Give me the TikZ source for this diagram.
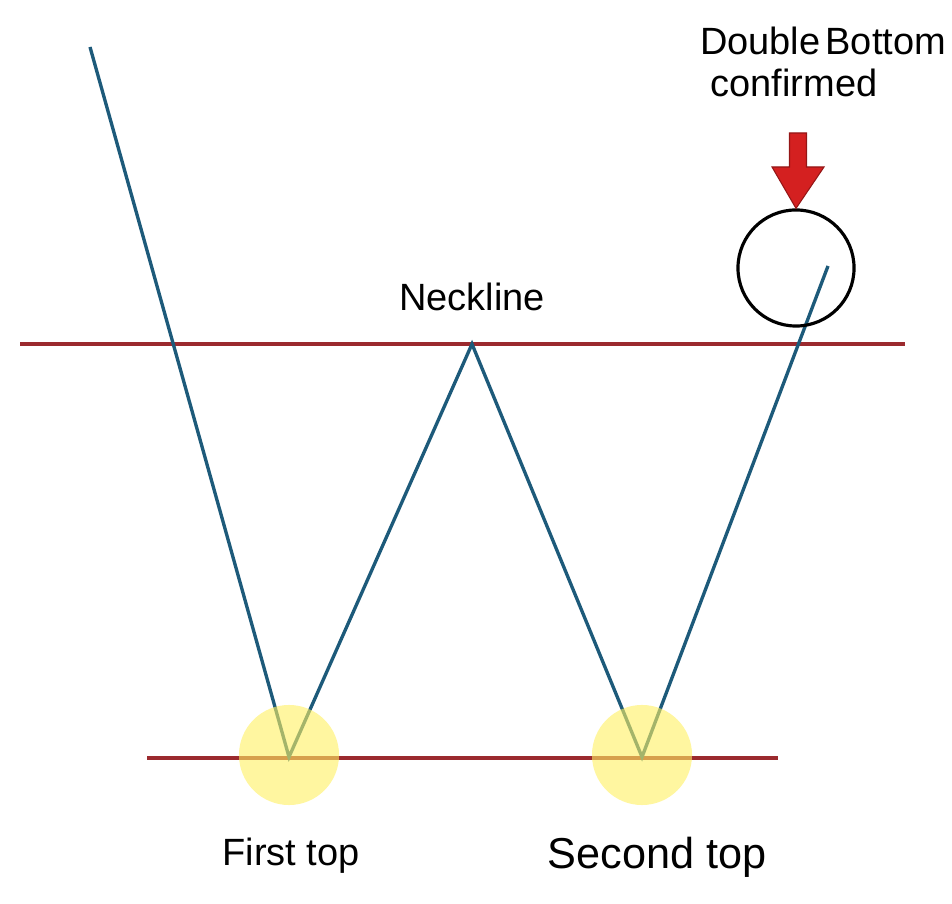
\documentclass[tikz,border=0pt]{standalone}
\usepackage{fontspec}
\setmainfont{Liberation Sans}
\usepackage{xcolor}
\usepackage{tikz}
\usetikzlibrary{positioning, calc}
\definecolor{pricecol}{HTML}{1D5A7A}
\definecolor{levelcol}{HTML}{9B2A2E}
\definecolor{arrowcol}{HTML}{D42020}
\definecolor{glowcol}{HTML}{FFF060}
\tikzset{
  % Chart styles
  price/.style={draw=pricecol, line width=0.95pt, line join=miter},
  level/.style={draw=levelcol, line width=1.15pt},
  glow/.style={circle, fill=glowcol, fill opacity=0.6, minimum size=1.0cm, inner sep=0pt},
  label/.style={font=\fontsize{10.8}{13}\selectfont, align=center, inner sep=1pt},
}

\begin{document}
\begin{tikzpicture}[x=0.01cm, y=0.01cm,
    ring/.style={circle, draw=black, line width=0.9pt, minimum size=1.16cm, inner sep=0pt},
    downarrow/.style={fill=arrowcol, draw=arrowcol!70!black, line width=0.3pt}
  ]
    \useasboundingbox (0,0) rectangle (952,903);

    % Price path points
    \coordinate (start) at (90,856);
    \coordinate (low1) at (289,146);
    \coordinate (peak) at (472,559);
    \coordinate (low2) at (642,146);
    \coordinate (break) at (828,637);

    % Neckline and support
    \coordinate (neckL) at (20,559);
    \coordinate (neckR) at (905,559);
    \coordinate (suppL) at (147,145);
    \coordinate (suppR) at (778,145);
    \draw[level] (neckL) -- (neckR);
    \draw[level] (suppL) -- (suppR);

    % W shape
    \draw[price] (start) -- (low1) -- (peak) -- (low2) -- (break);

    % Highlighted bottoms
    \node[glow] (glow1) at (289,148) {};
    \node[glow] (glow2) at (642,148) {};

    % Confirmation ring and arrow
    \node[ring] (confirm) at (796,635) {};
    \draw[downarrow] (789.5,770) -- (806.5,770) -- (806.5,736) -- (824,736)
      -- (confirm.north) -- (772,736) -- (789.5,736) -- cycle;

    % Labels
    \node[label] (necktext) at (472,606) {Neckline};
    \node[label] (first) at (291,47) {First top};
    \node[label, font=\fontsize{12.3}{14}\selectfont] (second) at (657,46) {Second top};
    \node[label, align=left] (conftext) at (823,841) {Double\hspace{1.5pt}Bottom\\[-1pt]\hspace*{3pt}confirmed};
  \end{tikzpicture}
\end{document}
